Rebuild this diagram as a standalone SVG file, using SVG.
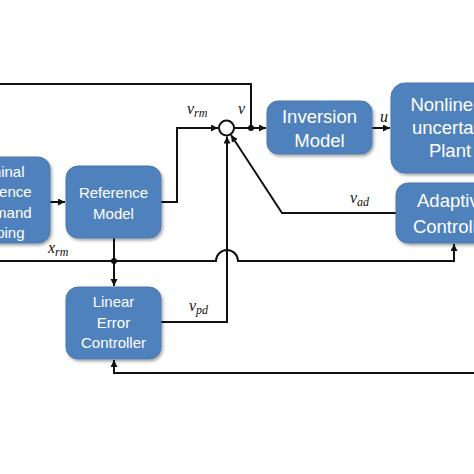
<svg xmlns="http://www.w3.org/2000/svg" width="474" height="474" viewBox="0 0 474 474">
<defs>
<style>
.box{fill:#4f81bd;stroke:#4a78b0;stroke-width:1;filter:url(#sh)}
.t{fill:#fff;font-family:"Liberation Sans",Arial,sans-serif;text-anchor:middle}
.s{font-size:15px}
.b{font-size:18.5px}
.w{fill:none;stroke:#111;stroke-width:2}
.m{font-family:"Liberation Serif","Times New Roman",serif;font-style:italic;fill:#111;font-size:16px}
.sub{font-size:12px}
</style>
<filter id="sh" x="-10%" y="-10%" width="130%" height="130%">
<feDropShadow dx="1.5" dy="2" stdDeviation="1.5" flood-color="#000" flood-opacity="0.35"/>
</filter>
<marker id="ar" markerUnits="userSpaceOnUse" markerWidth="8" markerHeight="8" refX="7" refY="3.5" orient="auto">
<path d="M0,0 L7,3.5 L0,7 z" fill="#111"/>
</marker>
</defs>
<rect width="474" height="474" fill="#fff"/>

<g id="connectors">
<path class="w" d="M0,84 H251 V128"/>
<path class="w" d="M234,128 H266" marker-end="url(#ar)"/>
<path class="w" d="M372,128 H390" marker-end="url(#ar)"/>
<path class="w" d="M50,202 H65" marker-end="url(#ar)"/>
<path class="w" d="M161,202 H177 V128 H218" marker-end="url(#ar)"/>
<path class="w" d="M114,238 V286" marker-end="url(#ar)"/>
<path class="w" d="M0,261 H216 A11,11 0 0 1 238,261 H454 V244" marker-end="url(#ar)"/>
<path class="w" d="M161,322 H227 V136.5" marker-end="url(#ar)"/>
<path class="w" d="M396,213 H282 L231,135" marker-end="url(#ar)"/>
<path class="w" d="M474,373 H114 V360" marker-end="url(#ar)"/>
<circle cx="251" cy="128" r="3" fill="#111"/>
<circle cx="114" cy="261" r="3" fill="#111"/>
<text class="m" x="187" y="114">v<tspan class="sub" dy="3">rm</tspan></text>
<text class="m" x="238" y="114">v</text>
<text class="m" x="380" y="122">u</text>
<text class="m" x="350" y="203">v<tspan class="sub" dy="3">ad</tspan></text>
<text class="m" x="189" y="311">v<tspan class="sub" dy="3">pd</tspan></text>
<text class="m" x="48" y="253">x<tspan class="sub" dy="3">rm</tspan></text>
</g>

<g id="sum">
<circle cx="226.5" cy="128" r="7.5" fill="#fff" stroke="#111" stroke-width="2"/>
</g>

<g id="shaping">
<rect class="box" x="-52" y="157" width="102" height="86" rx="12"/>
<text class="t s" x="-3" y="176.5">Nominal</text>
<text class="t s" x="-3" y="197">Reference</text>
<text class="t s" x="-3" y="217.5">Command</text>
<text class="t s" x="-3" y="238">Shaping</text>
</g>

<g id="reference-model">
<rect class="box" x="66" y="166" width="95" height="72" rx="12"/>
<text class="t s" x="113.5" y="198">Reference</text>
<text class="t s" x="113.5" y="219">Model</text>
</g>

<g id="linear-error-controller">
<rect class="box" x="66" y="287" width="95" height="72" rx="12"/>
<text class="t s" x="113.5" y="307">Linear</text>
<text class="t s" x="113.5" y="327.5">Error</text>
<text class="t s" x="113.5" y="348">Controller</text>
</g>

<g id="inversion-model">
<rect class="box" x="267" y="101" width="105" height="53" rx="11"/>
<text class="t b" x="319.5" y="123">Inversion</text>
<text class="t b" x="319.5" y="147">Model</text>
</g>

<g id="plant">
<rect class="box" x="391" y="83" width="118" height="90" rx="14"/>
<text class="t b" x="450" y="111">Nonlinear</text>
<text class="t b" x="450" y="134">uncertain</text>
<text class="t b" x="450" y="157">Plant</text>
</g>

<g id="adaptive-controller">
<rect class="box" x="396" y="183" width="114" height="60" rx="12"/>
<text class="t b" x="453" y="207">Adaptive</text>
<text class="t b" x="453" y="232.5">Controller</text>
</g>
</svg>
